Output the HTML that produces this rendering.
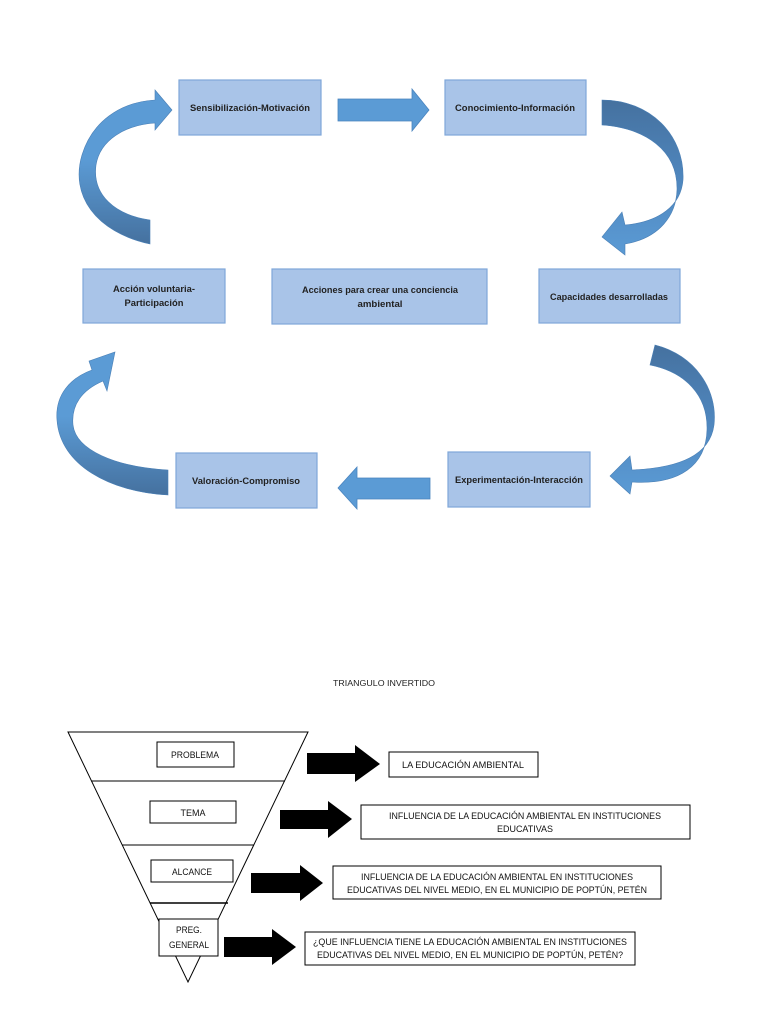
<!DOCTYPE html>
<html><head><meta charset="utf-8"><style>
html,body{margin:0;padding:0;background:#fff;}
svg{display:block;}
text{font-family:"Liberation Sans Narrow","Liberation Sans",sans-serif;}
.b{fill:#a9c4e8;stroke:#7fa7d9;stroke-width:1.2;}
.bl{font-size:9.5px;font-weight:bold;fill:#222;text-anchor:middle;}
.w{fill:#fff;stroke:#000;stroke-width:1;}
.t{font-size:9px;fill:#111;text-anchor:middle;}
</style></head><body>
<svg width="768" height="1024" viewBox="0 0 768 1024" xmlns="http://www.w3.org/2000/svg">
<defs>
<linearGradient id="g1" x1="0" y1="0" x2="0" y2="1"><stop offset="0" stop-color="#5b9bd5"/><stop offset="0.45" stop-color="#5b9bd5"/><stop offset="1" stop-color="#45719f"/></linearGradient>
<linearGradient id="g2" x1="0" y1="0" x2="0" y2="1"><stop offset="0" stop-color="#45719f"/><stop offset="0.5" stop-color="#4f86bd"/><stop offset="1" stop-color="#5b9bd5"/></linearGradient>
</defs>
<rect class="b" x="179" y="80" width="142" height="55"/>
<text class="bl" x="250" y="111" textLength="120" lengthAdjust="spacingAndGlyphs">Sensibilización-Motivación</text>
<rect class="b" x="445" y="80" width="141" height="55"/>
<text class="bl" x="515" y="111" textLength="120" lengthAdjust="spacingAndGlyphs">Conocimiento-Información</text>
<rect class="b" x="83" y="269" width="142" height="54"/>
<text class="bl" x="154" y="292" textLength="82" lengthAdjust="spacingAndGlyphs">Acción voluntaria-</text>
<text class="bl" x="154" y="306" textLength="59" lengthAdjust="spacingAndGlyphs">Participación</text>
<rect class="b" x="272" y="269" width="215" height="55"/>
<text class="bl" x="380" y="293" textLength="156" lengthAdjust="spacingAndGlyphs">Acciones para crear una conciencia</text>
<text class="bl" x="380" y="307" textLength="45" lengthAdjust="spacingAndGlyphs">ambiental</text>
<rect class="b" x="539" y="269" width="141" height="54"/>
<text class="bl" x="609" y="300" textLength="118" lengthAdjust="spacingAndGlyphs">Capacidades desarrolladas</text>
<rect class="b" x="176" y="453" width="141" height="55"/>
<text class="bl" x="246" y="484" textLength="108" lengthAdjust="spacingAndGlyphs">Valoración-Compromiso</text>
<rect class="b" x="448" y="452" width="142" height="55"/>
<text class="bl" x="519" y="483" textLength="128" lengthAdjust="spacingAndGlyphs">Experimentación-Interacción</text>
<path d="M338,99 L412,99 L412,89 L429,110 L412,131 L412,121 L338,121 Z" fill="#5b9bd5" stroke="#4a84bf" stroke-width="0.8"/>
<path d="M430,478 L357,478 L357,467 L338,488 L357,509 L357,499 L430,499 Z" fill="#5b9bd5" stroke="#4a84bf" stroke-width="0.8"/>
<path d="M150,244 C95,232 70,195 82,155 C92,122 120,102 155,100 L155,90 L172,110 L155,130 L155,123 C125,125 100,140 96,165 C92,195 115,215 150,220 Z" fill="url(#g1)" stroke="#4a7fb5" stroke-width="0.6"/>
<path d="M602,100 C650,100 685,135 683,180 C681,205 660,222 625,225 L622,212 L602,237 L625,255 L625,244 C660,238 676,215 677,190 C678,150 645,128 602,125 Z" fill="url(#g2)" stroke="#4a7fb5" stroke-width="0.6"/>
<path d="M655,345 C695,355 718,390 714,425 C710,455 680,468 632,470 L630,456 L610,476 L630,494 L632,482 C680,485 706,465 707,430 C708,395 685,372 650,365 Z" fill="url(#g2)" stroke="#4a7fb5" stroke-width="0.6"/>
<path d="M168,470 L168,495 C110,492 60,465 57,420 C55,395 70,378 92,370 L89,361 L115,352 L107,391 L103,381 C82,390 71,405 73,425 C76,450 115,467 168,470 Z" fill="url(#g1)" stroke="#4a7fb5" stroke-width="0.6"/>
<text x="384" y="686" style="font-size:8.5px;text-anchor:middle;fill:#222" textLength="102" lengthAdjust="spacingAndGlyphs">TRIANGULO INVERTIDO</text>
<path d="M68,732 L308,732 L188,982 Z" fill="#fff" stroke="#000" stroke-width="1"/>
<line x1="91" y1="781" x2="285" y2="781" stroke="#000"/>
<line x1="122" y1="845" x2="254" y2="845" stroke="#000"/>
<line x1="150" y1="903" x2="228" y2="903" stroke="#000" stroke-width="1.5"/>
<rect class="w" x="157" y="742" width="77" height="25"/><text class="t" x="195" y="758" textLength="48" lengthAdjust="spacingAndGlyphs">PROBLEMA</text>
<rect class="w" x="150" y="801" width="86" height="22"/><text class="t" x="193" y="816" textLength="25" lengthAdjust="spacingAndGlyphs">TEMA</text>
<rect class="w" x="151" y="860" width="82" height="22"/><text class="t" x="192" y="875" textLength="40" lengthAdjust="spacingAndGlyphs">ALCANCE</text>
<rect class="w" x="159" y="919" width="59" height="37"/><text class="t" x="189" y="933" textLength="26" lengthAdjust="spacingAndGlyphs">PREG.</text><text class="t" x="189" y="948" textLength="40" lengthAdjust="spacingAndGlyphs">GENERAL</text>
<path d="M307,753 L355,753 L355,745 L380,764 L355,782 L355,774 L307,774 Z" fill="#000"/>
<path d="M280,810 L328,810 L328,801 L352,819 L328,838 L328,829 L280,829 Z" fill="#000"/>
<path d="M251,873 L300,873 L300,865 L323,883 L300,901 L300,893 L251,893 Z" fill="#000"/>
<path d="M224,937 L272,937 L272,929 L296,947 L272,965 L272,957 L224,957 Z" fill="#000"/>
<rect class="w" x="389" y="752" width="149" height="25"/><text class="t" x="463" y="768" textLength="122" lengthAdjust="spacingAndGlyphs">LA EDUCACIÓN AMBIENTAL</text>
<rect class="w" x="361" y="805" width="329" height="34"/><text class="t" x="525" y="819" textLength="272" lengthAdjust="spacingAndGlyphs">INFLUENCIA DE LA EDUCACIÓN AMBIENTAL EN INSTITUCIONES</text><text class="t" x="525" y="832" textLength="56" lengthAdjust="spacingAndGlyphs">EDUCATIVAS</text>
<rect class="w" x="333" y="866" width="328" height="33"/><text class="t" x="497" y="880" textLength="272" lengthAdjust="spacingAndGlyphs">INFLUENCIA DE LA EDUCACIÓN AMBIENTAL EN INSTITUCIONES</text><text class="t" x="497" y="893" textLength="300" lengthAdjust="spacingAndGlyphs">EDUCATIVAS DEL NIVEL MEDIO, EN EL MUNICIPIO DE POPTÚN, PETÉN</text>
<rect class="w" x="305" y="932" width="330" height="33"/><text class="t" x="470" y="945" textLength="314" lengthAdjust="spacingAndGlyphs">¿QUE INFLUENCIA TIENE LA EDUCACIÓN AMBIENTAL EN INSTITUCIONES</text><text class="t" x="470" y="958" textLength="306" lengthAdjust="spacingAndGlyphs">EDUCATIVAS DEL NIVEL MEDIO, EN EL MUNICIPIO DE POPTÚN, PETÉN?</text>
</svg>
</body></html>
